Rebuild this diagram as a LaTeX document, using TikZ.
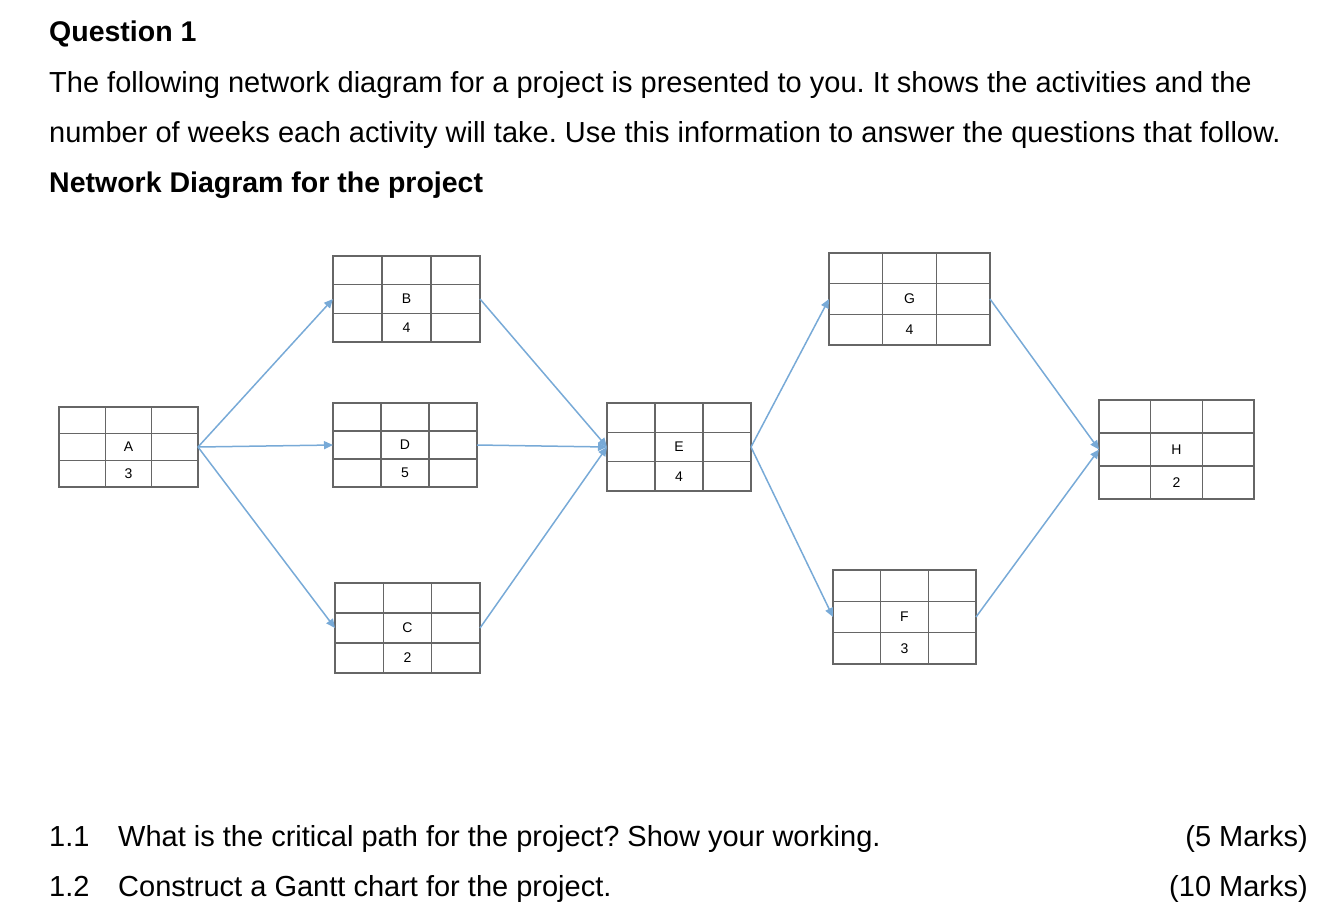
\documentclass[tikz,border=0pt]{standalone}
\usepackage{fontspec}
\setmainfont{Liberation Sans}
\usetikzlibrary{arrows.meta}
\definecolor{arr}{RGB}{120,170,215}
\newcommand\abox[8]{% name x1 y1 x2 y2 label dur
  \node[draw=gray!80!black,line width=1.2pt,minimum width=(#4-#2)*1pt,minimum height=(#5-#3)*1pt,inner sep=0pt] (#1) at ({(#2+#4)/2},{(#3+#5)/2}) {};
  \draw[gray!80!black,line width=1.2pt] ({#2+(#4-#2)/3},#3) -- ({#2+(#4-#2)/3},#5)
   ({#2+2*(#4-#2)/3},#3) -- ({#2+2*(#4-#2)/3},#5)
   (#2,{#3+(#5-#3)/3}) -- (#4,{#3+(#5-#3)/3})
   (#2,{#3+2*(#5-#3)/3}) -- (#4,{#3+2*(#5-#3)/3});
  \node[font=\fontsize{14}{16}\selectfont] at ({(#2+#4)/2},{#3+(#5-#3)/2}) {#6};
  \node[font=\fontsize{14}{16}\selectfont] at ({(#2+#4)/2},{#3+5*(#5-#3)/6}) {#7};
  \coordinate (#1l) at (#2,{#3+(#5-#3)/2});
  \coordinate (#1r) at (#4,{#3+(#5-#3)/2});
}
\begin{document}
\frenchspacing
\begin{tikzpicture}[x=1pt,y=-1pt,
  con/.style={arr,line width=1.5pt,-{Triangle[length=9pt,width=8pt]}},
  txt/.style={anchor=base west,inner sep=0pt,font=\fontsize{29}{33}\selectfont}]
\useasboundingbox (0,0) rectangle (1325,922);
\node[txt,font=\fontsize{28.5}{33}\selectfont\bfseries] (q) at (49,41) {Question 1};
\node[txt] (l1) at (49,92) {The following network diagram for a project is presented to you. It shows the activities and the};
\node[txt] (l2) at (49,142) {number of weeks each activity will take. Use this information to answer the questions that follow.};
\node[txt,font=\fontsize{28.5}{33}\selectfont\bfseries] (l3) at (49,192) {Network Diagram for the project};
\abox{A}{59}{407}{198}{487}{A}{3}{}
\abox{B}{333}{256}{480}{342}{B}{4}{}
\abox{D}{333}{403}{477}{487}{D}{5}{}
\abox{C}{335}{583}{480}{673}{C}{2}{}
\abox{E}{607}{403}{751}{491}{E}{4}{}
\abox{G}{829}{253}{990}{345}{G}{4}{}
\abox{F}{833}{570}{976}{664}{F}{3}{}
\abox{H}{1099}{400}{1254}{499}{H}{2}{}
\draw[con] (Ar) -- (Bl);
\draw[con] (Ar) -- (Dl);
\draw[con] (Ar) -- (Cl);
\draw[con] (Br) -- (El);
\draw[con] (Dr) -- (El);
\draw[con] (Cr) -- (El);
\draw[con] (Er) -- (Gl);
\draw[con] (Er) -- (Fl);
\draw[con] (Gr) -- (Hl);
\draw[con] (Fr) -- (Hl);
\node[txt] (n1) at (49,846) {1.1};
\node[txt] (t1) at (118,846) {What is the critical path for the project? Show your working.};
\node[txt,anchor=base east] (m1) at (1308,846) {(5 Marks)};
\node[txt] (n2) at (49,896) {1.2};
\node[txt] (t2) at (118,896) {Construct a Gantt chart for the project.};
\node[txt,anchor=base east] (m2) at (1308,896) {(10 Marks)};
\end{tikzpicture}
\end{document}
